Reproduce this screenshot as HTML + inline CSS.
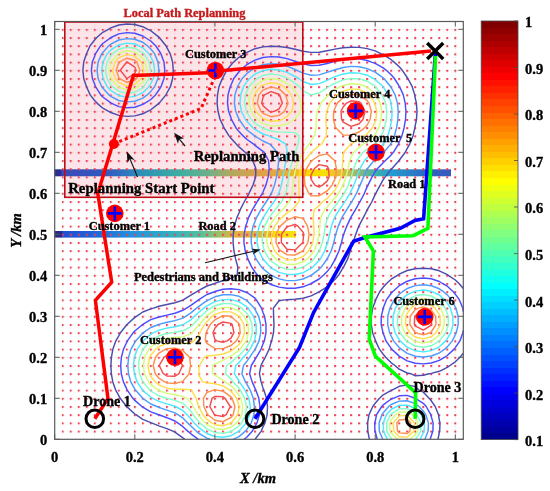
<!DOCTYPE html><html><head><meta charset="utf-8"><style>html,body{margin:0;padding:0;background:#fff;width:550px;height:491px;overflow:hidden}svg{display:block}text{font-family:"Liberation Serif","Times New Roman",serif;font-weight:bold;stroke-width:0.35px}</style></head><body>
<svg width="550" height="491" viewBox="0 0 550 491">
<defs>
<pattern id="dots" x="61.71" y="28.80" width="8.012" height="8.200" patternUnits="userSpaceOnUse"><rect x="0" y="0" width="2" height="2" fill="#ec4252"/></pattern>
<linearGradient id="road1" gradientUnits="userSpaceOnUse" x1="54.7" x2="451.0" y1="0" y2="0"><stop offset="0.000" stop-color="#2c2c90"/><stop offset="0.013" stop-color="#2c2c90"/><stop offset="0.020" stop-color="#3a4ab8"/><stop offset="0.127" stop-color="#3058c0"/><stop offset="0.170" stop-color="#3070c0"/><stop offset="0.215" stop-color="#2a90b8"/><stop offset="0.326" stop-color="#40b0a0"/><stop offset="0.392" stop-color="#70b088"/><stop offset="0.442" stop-color="#b0a860"/><stop offset="0.519" stop-color="#e0a048"/><stop offset="0.600" stop-color="#f0b030"/><stop offset="0.634" stop-color="#f8d800"/><stop offset="0.680" stop-color="#f8e000"/><stop offset="0.707" stop-color="#f0c030"/><stop offset="0.745" stop-color="#c0b850"/><stop offset="0.775" stop-color="#80b880"/><stop offset="0.808" stop-color="#40b0a8"/><stop offset="0.846" stop-color="#20a0d0"/><stop offset="0.897" stop-color="#2880c8"/><stop offset="0.947" stop-color="#3060c0"/><stop offset="1.000" stop-color="#3858c0"/></linearGradient>
<linearGradient id="road2" gradientUnits="userSpaceOnUse" x1="54.7" x2="296.0" y1="0" y2="0"><stop offset="0.000" stop-color="#28288a"/><stop offset="0.028" stop-color="#28288a"/><stop offset="0.036" stop-color="#2050d0"/><stop offset="0.146" stop-color="#2060d8"/><stop offset="0.312" stop-color="#2090e0"/><stop offset="0.478" stop-color="#30b0c0"/><stop offset="0.602" stop-color="#50c0a0"/><stop offset="0.685" stop-color="#a0c060"/><stop offset="0.747" stop-color="#e0b040"/><stop offset="0.892" stop-color="#f0b030"/><stop offset="0.913" stop-color="#f8e010"/><stop offset="1.000" stop-color="#f8e010"/></linearGradient>
<linearGradient id="cbar" x1="0" x2="0" y1="1" y2="0"><stop offset="0.00000" stop-color="#00008f"/><stop offset="0.01562" stop-color="#00008f"/><stop offset="0.01562" stop-color="#00009f"/><stop offset="0.03125" stop-color="#00009f"/><stop offset="0.03125" stop-color="#0000af"/><stop offset="0.04688" stop-color="#0000af"/><stop offset="0.04688" stop-color="#0000bf"/><stop offset="0.06250" stop-color="#0000bf"/><stop offset="0.06250" stop-color="#0000cf"/><stop offset="0.07812" stop-color="#0000cf"/><stop offset="0.07812" stop-color="#0000df"/><stop offset="0.09375" stop-color="#0000df"/><stop offset="0.09375" stop-color="#0000ef"/><stop offset="0.10938" stop-color="#0000ef"/><stop offset="0.10938" stop-color="#0000ff"/><stop offset="0.12500" stop-color="#0000ff"/><stop offset="0.12500" stop-color="#0010ff"/><stop offset="0.14062" stop-color="#0010ff"/><stop offset="0.14062" stop-color="#0020ff"/><stop offset="0.15625" stop-color="#0020ff"/><stop offset="0.15625" stop-color="#0030ff"/><stop offset="0.17188" stop-color="#0030ff"/><stop offset="0.17188" stop-color="#0040ff"/><stop offset="0.18750" stop-color="#0040ff"/><stop offset="0.18750" stop-color="#0050ff"/><stop offset="0.20312" stop-color="#0050ff"/><stop offset="0.20312" stop-color="#0060ff"/><stop offset="0.21875" stop-color="#0060ff"/><stop offset="0.21875" stop-color="#0070ff"/><stop offset="0.23438" stop-color="#0070ff"/><stop offset="0.23438" stop-color="#0080ff"/><stop offset="0.25000" stop-color="#0080ff"/><stop offset="0.25000" stop-color="#008fff"/><stop offset="0.26562" stop-color="#008fff"/><stop offset="0.26562" stop-color="#009fff"/><stop offset="0.28125" stop-color="#009fff"/><stop offset="0.28125" stop-color="#00afff"/><stop offset="0.29688" stop-color="#00afff"/><stop offset="0.29688" stop-color="#00bfff"/><stop offset="0.31250" stop-color="#00bfff"/><stop offset="0.31250" stop-color="#00cfff"/><stop offset="0.32812" stop-color="#00cfff"/><stop offset="0.32812" stop-color="#00dfff"/><stop offset="0.34375" stop-color="#00dfff"/><stop offset="0.34375" stop-color="#00efff"/><stop offset="0.35938" stop-color="#00efff"/><stop offset="0.35938" stop-color="#00ffff"/><stop offset="0.37500" stop-color="#00ffff"/><stop offset="0.37500" stop-color="#10ffef"/><stop offset="0.39062" stop-color="#10ffef"/><stop offset="0.39062" stop-color="#20ffdf"/><stop offset="0.40625" stop-color="#20ffdf"/><stop offset="0.40625" stop-color="#30ffcf"/><stop offset="0.42188" stop-color="#30ffcf"/><stop offset="0.42188" stop-color="#40ffbf"/><stop offset="0.43750" stop-color="#40ffbf"/><stop offset="0.43750" stop-color="#50ffaf"/><stop offset="0.45312" stop-color="#50ffaf"/><stop offset="0.45312" stop-color="#60ff9f"/><stop offset="0.46875" stop-color="#60ff9f"/><stop offset="0.46875" stop-color="#70ff8f"/><stop offset="0.48438" stop-color="#70ff8f"/><stop offset="0.48438" stop-color="#80ff80"/><stop offset="0.50000" stop-color="#80ff80"/><stop offset="0.50000" stop-color="#8fff70"/><stop offset="0.51562" stop-color="#8fff70"/><stop offset="0.51562" stop-color="#9fff60"/><stop offset="0.53125" stop-color="#9fff60"/><stop offset="0.53125" stop-color="#afff50"/><stop offset="0.54688" stop-color="#afff50"/><stop offset="0.54688" stop-color="#bfff40"/><stop offset="0.56250" stop-color="#bfff40"/><stop offset="0.56250" stop-color="#cfff30"/><stop offset="0.57812" stop-color="#cfff30"/><stop offset="0.57812" stop-color="#dfff20"/><stop offset="0.59375" stop-color="#dfff20"/><stop offset="0.59375" stop-color="#efff10"/><stop offset="0.60938" stop-color="#efff10"/><stop offset="0.60938" stop-color="#ffff00"/><stop offset="0.62500" stop-color="#ffff00"/><stop offset="0.62500" stop-color="#ffef00"/><stop offset="0.64062" stop-color="#ffef00"/><stop offset="0.64062" stop-color="#ffdf00"/><stop offset="0.65625" stop-color="#ffdf00"/><stop offset="0.65625" stop-color="#ffcf00"/><stop offset="0.67188" stop-color="#ffcf00"/><stop offset="0.67188" stop-color="#ffbf00"/><stop offset="0.68750" stop-color="#ffbf00"/><stop offset="0.68750" stop-color="#ffaf00"/><stop offset="0.70312" stop-color="#ffaf00"/><stop offset="0.70312" stop-color="#ff9f00"/><stop offset="0.71875" stop-color="#ff9f00"/><stop offset="0.71875" stop-color="#ff8f00"/><stop offset="0.73438" stop-color="#ff8f00"/><stop offset="0.73438" stop-color="#ff8000"/><stop offset="0.75000" stop-color="#ff8000"/><stop offset="0.75000" stop-color="#ff7000"/><stop offset="0.76562" stop-color="#ff7000"/><stop offset="0.76562" stop-color="#ff6000"/><stop offset="0.78125" stop-color="#ff6000"/><stop offset="0.78125" stop-color="#ff5000"/><stop offset="0.79688" stop-color="#ff5000"/><stop offset="0.79688" stop-color="#ff4000"/><stop offset="0.81250" stop-color="#ff4000"/><stop offset="0.81250" stop-color="#ff3000"/><stop offset="0.82812" stop-color="#ff3000"/><stop offset="0.82812" stop-color="#ff2000"/><stop offset="0.84375" stop-color="#ff2000"/><stop offset="0.84375" stop-color="#ff1000"/><stop offset="0.85938" stop-color="#ff1000"/><stop offset="0.85938" stop-color="#ff0000"/><stop offset="0.87500" stop-color="#ff0000"/><stop offset="0.87500" stop-color="#ef0000"/><stop offset="0.89062" stop-color="#ef0000"/><stop offset="0.89062" stop-color="#df0000"/><stop offset="0.90625" stop-color="#df0000"/><stop offset="0.90625" stop-color="#cf0000"/><stop offset="0.92188" stop-color="#cf0000"/><stop offset="0.92188" stop-color="#bf0000"/><stop offset="0.93750" stop-color="#bf0000"/><stop offset="0.93750" stop-color="#af0000"/><stop offset="0.95312" stop-color="#af0000"/><stop offset="0.95312" stop-color="#9f0000"/><stop offset="0.96875" stop-color="#9f0000"/><stop offset="0.96875" stop-color="#8f0000"/><stop offset="0.98438" stop-color="#8f0000"/><stop offset="0.98438" stop-color="#800000"/><stop offset="1.00000" stop-color="#800000"/></linearGradient>
</defs>
<rect x="64.8" y="22" width="238" height="175.3" fill="#fce4e8"/>
<path d="M94.8,439.3V21.1M54.7,398.3H463.3M134.8,439.3V21.1M54.7,357.3H463.3M174.9,439.3V21.1M54.7,316.3H463.3M214.9,439.3V21.1M54.7,275.3H463.3M255.0,439.3V21.1M54.7,234.3H463.3M295.1,439.3V21.1M54.7,193.3H463.3M335.1,439.3V21.1M54.7,152.3H463.3M375.2,439.3V21.1M54.7,111.3H463.3M415.2,439.3V21.1M54.7,70.3H463.3M455.3,439.3V21.1M54.7,29.3H463.3" stroke="#c8c8c8" stroke-width="0.6" stroke-dasharray="1,2" fill="none"/>
<rect x="54.7" y="169.3" width="396.3" height="7" fill="url(#road1)"/>
<rect x="54.7" y="231.0" width="241.3" height="6.6" fill="url(#road2)"/>
<rect x="61.71" y="28.80" width="396.59" height="405.90" fill="url(#dots)"/>
<g fill="none" stroke-width="1.45" stroke-linejoin="round">
<path d="M255.1,439.3L261.3,431.1L263.0,426.8L265.0,422.9L267.1,414.7L267.5,406.5L266.5,398.3L263.9,390.1L263.0,387.9L261.1,381.9L259.4,373.7L261.0,365.5L263.0,361.4L265.3,357.3L269.2,349.1L271.0,342.6L271.7,340.9L273.5,332.7L274.0,324.5L273.6,316.3L273.4,308.1L279.0,300.8L284.5,299.9L287.0,299.7L295.1,299.3L303.1,298.2L311.1,295.9L319.1,291.9L319.4,291.7L327.1,286.9L330.9,283.5L335.1,279.2L338.5,275.3L343.1,267.6L343.5,267.1L347.7,258.9L350.4,250.7L351.1,247.8L353.0,242.5L355.8,234.3L358.8,226.1L359.2,225.4L363.2,217.9L367.2,210.0L367.3,209.7L372.0,201.5L375.2,194.4L375.8,193.3L380.2,185.1L383.2,179.7L385.2,176.9L391.2,169.4L391.8,168.7L399.1,160.5L399.2,160.3L405.3,152.3L407.2,148.4L409.7,144.1L413.0,135.9L414.9,127.7L415.2,125.7L416.5,119.5L417.0,111.3L416.4,103.1L415.2,98.0L414.7,94.9L412.2,86.7L407.9,78.5L407.2,77.5L402.3,70.3L399.2,66.8L394.1,62.1L391.2,59.7L383.2,54.7L381.3,53.9L375.2,50.9L367.2,48.6L359.2,47.4L351.1,47.2L343.1,47.8L335.1,49.1L327.1,50.7L319.1,52.2L311.1,52.4L303.1,51.2L295.1,49.3L287.0,47.5L279.0,46.5L271.0,46.3L263.0,46.9L255.0,48.7L247.0,52.3L244.4,53.9L239.0,57.3L233.6,62.1L231.0,65.0L226.7,70.3L223.0,77.4L222.3,78.5L219.0,86.7L217.5,94.9L217.1,103.1L218.0,111.3L220.1,119.5L223.0,125.4L223.9,127.7L229.0,135.9L231.0,138.3L236.2,144.1L239.0,146.9L245.2,152.3L247.0,154.2L252.6,160.5L255.0,166.1L255.8,168.7L255.6,176.9L255.0,179.1L253.0,185.1L249.0,193.3L247.0,197.1L244.4,201.5L240.2,209.7L239.0,213.0L236.8,217.9L234.4,226.1L233.2,234.3L233.1,242.5L233.9,250.7L235.6,258.9L237.8,267.1L237.2,275.3L231.0,278.2L223.0,280.5L214.9,283.4L214.8,283.5L206.9,286.0L198.9,290.4L196.9,291.7L190.9,295.1L183.2,299.9L182.9,300.1L174.9,302.7L166.9,304.5L158.9,306.3L153.6,308.1L150.8,308.8L142.8,312.0L136.4,316.3L134.8,317.4L127.0,324.5L126.8,324.7L120.4,332.7L118.8,335.8L115.8,340.9L112.9,349.1L111.4,357.3L110.9,365.5L111.3,373.7L112.8,381.9L115.7,390.1L118.8,395.6L120.2,398.3L126.7,406.5L126.8,406.6L134.8,414.0L135.9,414.7L142.8,419.4L150.8,422.7L151.4,422.9L158.9,425.9L166.9,428.6L172.8,431.1L174.9,432.2L182.9,437.8L184.8,439.3M438.0,439.3L439.3,432.5L439.7,431.1L440.0,422.9L439.3,420.1L438.5,414.7L435.2,406.5L431.3,400.8L429.1,398.3L423.3,392.2L419.0,390.1L415.2,386.6L407.2,384.9L399.2,386.3L392.1,390.1L391.2,390.3L383.2,394.8L379.5,398.3L375.2,403.3L372.8,406.5L369.0,414.7L367.6,422.9L367.8,431.1L369.4,439.3M463.3,288.5L459.0,283.5L455.3,280.0L448.2,275.3L447.3,274.7L439.3,270.8L431.3,268.8L423.3,268.2L415.2,268.7L407.2,270.5L399.2,274.2L397.5,275.3L391.2,279.2L386.5,283.5L383.2,287.3L379.7,291.7L375.6,299.9L375.2,301.5L372.7,308.1L371.3,316.3L371.3,324.5L372.6,332.7L375.2,339.7L375.5,340.9L379.4,349.1L383.2,354.2L385.7,357.3L391.2,362.8L395.0,365.5L399.2,369.2L407.2,373.0L410.8,373.7L415.2,375.8L423.3,375.3L429.0,373.7L431.3,373.4L439.3,371.3L447.3,367.4L450.0,365.5L455.3,361.8L460.0,357.3L463.3,353.3M108.7,111.3L110.8,112.5L118.8,115.4L126.8,116.4L134.8,115.9L142.8,113.8L147.5,111.3L150.8,109.8L158.9,103.4L159.2,103.1L165.9,94.9L166.9,93.0L170.4,86.7L172.6,78.5L173.3,70.3L172.6,62.1L170.3,53.9L166.9,47.6L165.9,45.7L159.3,37.5L158.9,37.1L150.8,30.7L147.8,29.3L142.8,26.7L134.8,24.5L126.8,24.0L118.8,25.0L110.8,27.9L108.4,29.3L102.8,32.3L96.8,37.5L94.8,39.8L90.1,45.7L86.7,53.2L86.4,53.9L83.7,62.1L82.9,70.3L83.7,78.5L86.5,86.7L86.7,87.2L90.2,94.9L94.8,100.7L97.0,103.1L102.8,108.2L108.7,111.3" stroke="#4c4cb1"/>
<path d="M244.0,439.3L247.0,437.0L252.4,431.1L255.0,426.4L257.0,422.9L259.4,414.7L259.9,406.5L258.8,398.3L255.8,390.1L255.0,388.4L252.2,381.9L249.6,373.7L251.3,365.5L255.0,359.5L256.3,357.3L261.1,349.1L263.0,343.9L264.3,340.9L266.0,332.7L266.0,324.5L264.5,316.3L263.0,312.4L261.5,308.1L256.3,299.9L255.0,298.2L247.0,292.5L244.5,291.7L239.0,289.6L231.0,288.7L223.0,289.3L214.9,291.5L214.6,291.7L206.9,294.5L198.9,299.7L198.6,299.9L190.9,305.3L186.5,308.1L182.9,310.3L174.9,313.2L166.9,315.1L162.4,316.3L158.9,317.0L150.8,319.6L142.8,324.3L142.6,324.5L134.8,331.0L133.2,332.7L127.4,340.9L126.8,342.3L123.5,349.1L121.4,357.3L120.7,365.5L121.3,373.7L123.4,381.9L126.8,389.1L127.3,390.1L132.9,398.3L134.8,400.4L141.9,406.5L142.8,407.2L150.8,411.9L158.7,414.7L158.9,414.8L166.9,417.7L174.9,421.0L177.7,422.9L182.9,426.7L187.7,431.1L190.9,433.8L198.4,439.3M430.2,439.3L431.3,435.7L432.9,431.1L433.1,422.9L431.3,416.6L430.8,414.7L426.2,406.5L423.3,403.3L415.4,398.3L415.2,398.2L407.2,395.4L399.2,395.8L393.3,398.3L391.2,399.0L383.2,404.9L381.7,406.5L376.6,414.7L375.2,421.3L374.7,422.9L374.9,431.1L375.2,431.8L377.2,439.3M463.3,311.5L462.7,308.1L459.4,299.9L455.3,294.2L453.3,291.7L447.3,286.2L442.6,283.5L439.3,281.5L431.3,278.8L423.3,278.0L415.2,278.7L407.2,281.2L403.2,283.5L399.2,285.7L392.6,291.7L391.2,293.3L386.4,299.9L383.2,308.1L383.2,308.4L381.3,316.3L381.2,324.5L383.0,332.7L383.2,333.3L386.0,340.9L391.2,348.4L391.7,349.1L399.2,356.1L401.3,357.3L407.2,360.9L415.2,363.3L423.3,363.9L431.3,363.0L439.3,360.4L444.4,357.3L447.3,355.5L454.1,349.1L455.3,347.6L459.9,340.9L462.9,332.7L463.3,330.4M269.2,283.5L271.0,284.5L279.0,287.1L287.0,288.3L295.1,288.2L303.1,286.8L311.1,283.6L311.2,283.5L319.1,279.0L323.5,275.3L327.1,271.6L330.8,267.1L335.1,259.3L335.4,258.9L339.0,250.7L341.5,242.5L343.1,236.0L343.7,234.3L346.8,226.1L350.6,217.9L351.1,216.9L355.5,209.7L359.2,203.0L360.1,201.5L364.4,193.3L367.2,186.6L368.0,185.1L372.1,176.9L375.2,171.5L377.3,168.7L383.2,162.7L385.4,160.5L391.2,154.9L393.4,152.3L398.4,144.1L399.2,142.0L401.9,135.9L404.1,127.7L405.5,119.5L405.9,111.3L405.2,103.1L403.3,94.9L399.6,86.7L399.2,86.1L394.4,78.5L391.2,74.8L386.2,70.3L383.2,67.9L375.2,63.4L371.4,62.1L367.2,60.5L359.2,58.9L351.1,58.6L343.1,59.5L335.1,61.3L332.5,62.1L327.1,63.5L319.1,65.2L311.1,65.5L303.1,63.9L297.5,62.1L295.1,61.3L287.0,58.6L279.0,57.0L271.0,56.6L263.0,57.5L255.0,60.1L251.3,62.1L247.0,64.5L240.3,70.3L239.0,71.7L233.8,78.5L231.0,85.0L230.2,86.7L228.0,94.9L227.5,103.1L228.6,111.3L231.0,117.8L231.5,119.5L235.9,127.7L239.0,131.6L243.1,135.9L247.0,139.5L253.6,144.1L255.0,145.3L263.0,151.3L264.2,152.3L268.5,160.5L269.2,168.7L268.2,176.9L265.9,185.1L263.0,192.0L262.4,193.3L257.3,201.5L255.0,205.4L252.4,209.7L248.4,217.9L247.0,222.5L245.7,226.1L244.1,234.3L243.9,242.5L245.2,250.7L247.0,256.1L247.8,258.9L251.7,267.1L255.0,272.0L257.8,275.3L263.0,280.3L269.2,283.5M111.3,103.1L118.8,106.6L126.8,107.8L134.8,107.2L142.8,104.4L145.0,103.1L150.8,99.5L155.5,94.9L158.9,90.0L161.0,86.7L164.0,78.5L164.8,70.3L164.0,62.1L161.0,53.9L158.9,50.5L155.6,45.7L150.8,41.0L145.2,37.5L142.8,36.0L134.8,33.3L126.8,32.6L118.8,33.9L111.0,37.5L110.8,37.6L102.8,43.5L100.7,45.7L95.4,53.9L94.8,55.9L92.3,62.1L91.4,70.3L92.4,78.5L94.8,84.6L95.5,86.7L100.8,94.9L102.8,97.0L110.8,102.9L111.3,103.1" stroke="#4c4cff"/>
<path d="M233.0,439.3L239.0,436.6L245.4,431.1L247.0,429.2L251.3,422.9L253.9,414.7L254.4,406.5L253.3,398.3L250.2,390.1L247.0,384.4L245.4,381.9L241.9,373.7L243.5,365.5L247.0,361.1L249.6,357.3L255.0,349.4L255.2,349.1L259.1,340.9L260.7,332.7L260.6,324.5L258.7,316.3L255.0,309.4L254.2,308.1L247.0,300.7L245.7,299.9L239.0,296.3L231.0,294.6L223.0,294.8L214.9,296.8L208.7,299.9L206.9,300.7L198.9,306.3L196.5,308.1L190.9,312.9L185.7,316.3L182.9,318.1L174.9,320.6L166.9,322.2L158.9,324.4L158.6,324.5L150.8,327.5L143.3,332.7L142.8,333.1L135.7,340.9L134.8,342.3L131.0,349.1L128.6,357.3L127.8,365.5L128.5,373.7L130.8,381.9L134.8,389.1L135.4,390.1L142.8,398.3L142.8,398.3L150.8,404.0L156.8,406.5L158.9,407.4L166.9,410.1L174.9,412.9L177.9,414.7L182.9,418.1L187.6,422.9L190.9,426.0L196.2,431.1L198.9,433.4L206.9,438.2L210.3,439.3M424.9,439.3L428.2,431.1L428.4,422.9L425.8,414.7L423.3,411.0L419.0,406.5L415.2,403.6L407.2,400.8L399.2,401.1L391.2,404.5L388.7,406.5L383.2,412.8L381.9,414.7L379.1,422.9L379.3,431.1L382.8,439.3M401.2,349.1L407.2,353.4L415.2,356.2L423.3,357.0L431.3,356.0L439.3,353.0L444.7,349.1L447.3,346.9L452.3,340.9L455.3,334.7L456.3,332.7L458.2,324.5L458.1,316.3L455.9,308.1L455.3,307.0L451.6,299.9L447.3,294.9L443.4,291.7L439.3,288.8L431.3,285.7L423.3,284.8L415.2,285.6L407.2,288.5L402.5,291.7L399.2,294.3L394.2,299.9L391.2,305.6L389.9,308.1L387.8,316.3L387.7,324.5L389.6,332.7L391.2,336.1L393.6,340.9L399.2,347.5L401.2,349.1M271.4,275.3L279.0,278.9L287.0,280.6L295.1,280.6L303.1,279.0L311.0,275.3L311.1,275.3L319.1,269.3L321.3,267.1L327.1,259.0L327.2,258.9L331.3,250.7L333.8,242.5L335.1,236.6L335.8,234.3L338.3,226.1L341.8,217.9L343.1,215.7L346.8,209.7L351.1,202.7L351.9,201.5L356.5,193.3L359.2,187.1L360.1,185.1L363.6,176.9L367.2,168.9L367.3,168.7L374.0,160.5L375.2,159.5L383.2,153.0L383.9,152.3L390.6,144.1L391.2,142.9L394.4,135.9L396.6,127.7L397.9,119.5L398.2,111.3L397.4,103.1L395.1,94.9L391.2,87.5L390.8,86.7L383.9,78.5L383.2,77.8L375.2,72.1L371.1,70.3L367.2,68.6L359.2,66.7L351.1,66.4L343.1,67.5L335.1,69.7L333.5,70.3L327.1,72.4L319.1,74.9L311.1,75.3L303.1,73.1L296.9,70.3L295.1,69.5L287.0,66.2L279.0,64.2L271.0,63.7L263.0,64.7L255.0,67.7L251.1,70.3L247.0,73.4L242.2,78.5L239.0,84.0L237.5,86.7L234.9,94.9L234.4,103.1L235.7,111.3L239.0,119.1L239.1,119.5L244.8,127.7L247.0,130.0L254.7,135.9L255.0,136.2L263.0,141.0L269.7,144.1L271.0,145.2L277.3,152.3L278.6,160.5L277.9,168.7L276.5,176.9L274.5,185.1L271.5,193.3L271.0,194.1L266.5,201.5L263.0,206.7L261.0,209.7L256.4,217.9L255.0,221.5L253.1,226.1L251.4,234.3L251.2,242.5L252.7,250.7L255.0,256.4L256.0,258.9L261.5,267.1L263.0,268.8L271.0,275.1L271.4,275.3M109.0,94.9L110.8,96.4L118.8,100.5L126.8,101.9L134.8,101.2L142.8,98.1L147.2,94.9L150.8,91.4L154.6,86.7L157.9,78.5L158.9,70.4L158.9,70.3L158.9,70.2L158.0,62.1L154.6,53.9L150.8,49.0L147.3,45.7L142.8,42.3L134.8,39.3L126.8,38.6L118.8,40.0L110.8,44.1L108.8,45.7L102.8,52.4L101.7,53.9L98.1,62.1L97.1,70.3L98.1,78.5L101.8,86.7L102.8,88.0L109.0,94.9" stroke="#4c9bff"/>
<path d="M203.4,431.1L206.9,433.5L214.9,436.5L223.0,437.3L231.0,435.7L239.0,431.2L239.1,431.1L246.2,422.9L247.0,421.2L249.6,414.7L250.4,406.5L248.8,398.3L247.0,394.2L245.0,390.1L239.4,381.9L239.0,381.0L234.3,373.7L235.8,365.5L239.0,362.6L243.3,357.3L247.0,353.4L250.2,349.1L254.3,340.9L255.0,338.1L256.3,332.7L256.1,324.5L255.0,321.0L253.6,316.3L248.1,308.1L247.0,307.0L239.0,301.7L232.3,299.9L231.0,299.5L223.0,299.6L221.7,299.9L214.9,301.6L206.9,305.8L203.8,308.1L198.9,312.3L194.4,316.3L190.9,319.8L183.3,324.5L182.9,324.7L174.9,326.8L166.9,328.1L158.9,330.3L153.8,332.7L150.8,334.2L143.0,340.9L142.8,341.1L137.3,349.1L134.8,356.3L134.4,357.3L133.4,365.5L134.4,373.7L134.8,375.1L137.1,381.9L142.6,390.1L142.8,390.4L150.8,397.2L152.8,398.3L158.9,401.4L166.9,403.9L174.9,406.2L175.6,406.5L182.9,410.6L186.9,414.7L190.9,418.8L194.1,422.9L198.9,427.6L203.4,431.1M420.2,439.3L423.3,433.0L424.1,431.1L424.4,422.9L423.3,419.9L421.2,414.7L415.2,408.5L410.7,406.5L407.2,405.1L399.2,405.3L396.8,406.5L391.2,409.4L386.3,414.7L383.3,422.9L383.5,431.1L387.3,439.3M411.4,349.1L415.2,350.8L423.3,351.9L431.3,350.6L434.5,349.1L439.3,346.8L445.7,340.9L447.3,338.7L450.9,332.7L453.0,324.5L452.8,316.3L450.4,308.1L447.3,303.1L444.8,299.9L439.3,295.0L432.1,291.7L431.3,291.3L423.3,290.0L415.2,291.1L413.9,291.7L407.2,294.6L401.0,299.9L399.2,302.2L395.4,308.1L393.1,316.3L393.0,324.5L395.0,332.7L399.2,339.7L400.1,340.9L407.2,347.2L411.4,349.1M270.2,267.1L271.0,267.8L279.0,272.4L287.0,274.4L295.1,274.5L303.1,272.7L311.1,268.4L312.7,267.1L319.1,260.6L320.4,258.9L324.9,250.7L327.1,243.8L327.6,242.5L329.6,234.3L331.4,226.1L334.4,217.9L335.1,216.7L339.4,209.7L343.1,204.4L345.1,201.5L350.0,193.3L351.1,190.9L353.9,185.1L356.9,176.9L359.2,170.4L359.9,168.7L364.6,160.5L367.2,157.7L373.5,152.3L375.2,151.1L383.2,144.4L383.4,144.1L387.8,135.9L390.2,127.7L391.2,122.2L391.7,119.5L392.1,111.3L391.2,104.3L391.1,103.1L388.4,94.9L383.2,86.8L383.1,86.7L375.2,79.5L373.5,78.5L367.2,75.2L359.2,73.1L351.1,72.8L343.1,74.0L335.1,76.6L330.8,78.5L327.1,80.3L319.1,83.6L311.1,84.5L303.1,81.5L298.7,78.5L295.1,76.5L287.0,72.4L279.8,70.3L279.0,70.0L271.0,69.3L265.3,70.3L263.0,70.6L255.0,74.1L249.7,78.5L247.0,81.6L243.5,86.7L240.6,94.9L240.0,103.1L241.4,111.3L245.4,119.5L247.0,121.6L252.9,127.7L255.0,129.4L263.0,134.0L268.9,135.9L271.0,136.9L279.0,139.8L285.7,144.1L287.0,150.6L287.2,152.3L287.0,153.4L286.0,160.5L284.4,168.7L283.0,176.9L281.4,185.1L279.0,193.0L278.9,193.3L274.3,201.5L271.0,205.9L268.3,209.7L263.0,217.9L263.0,217.9L259.2,226.1L257.3,234.3L257.1,242.5L258.8,250.7L262.8,258.9L263.0,259.2L270.2,267.1M117.7,94.9L118.8,95.5L126.8,97.4L134.8,96.4L138.2,94.9L142.8,92.6L149.0,86.7L150.8,83.5L153.4,78.5L154.7,70.3L153.4,62.1L150.8,57.0L149.1,53.9L142.8,47.8L138.5,45.7L134.8,44.0L126.8,43.1L118.8,45.0L117.5,45.7L110.8,49.9L107.1,53.9L103.0,62.1L102.8,63.7L101.7,70.3L102.8,76.7L103.0,78.5L107.2,86.7L110.8,90.5L117.7,94.9" stroke="#4ce9ff"/>
<path d="M211.7,431.1L214.9,432.5L223.0,433.4L231.0,431.5L231.6,431.1L239.0,426.0L241.7,422.9L245.6,414.7L246.4,406.5L244.7,398.3L240.3,390.1L239.0,388.1L233.0,381.9L231.0,378.9L225.5,373.7L226.6,365.5L231.0,362.6L236.6,357.3L239.0,355.7L245.2,349.1L247.0,346.6L250.3,340.9L252.4,332.7L252.0,324.5L249.0,316.3L247.0,313.4L241.5,308.1L239.0,306.3L231.0,303.6L223.0,303.5L214.9,305.8L210.9,308.1L206.9,310.7L200.7,316.3L198.9,318.4L192.8,324.5L190.9,326.6L182.9,330.8L174.9,332.3L172.5,332.7L166.9,333.5L158.9,335.8L150.8,340.4L150.3,340.9L143.1,349.1L142.8,349.7L139.6,357.3L138.4,365.5L139.5,373.7L142.8,381.8L142.9,381.9L149.8,390.1L150.8,391.0L158.9,395.8L166.5,398.3L166.9,398.4L174.9,400.4L182.9,403.4L186.4,406.5L190.9,411.2L193.1,414.7L198.9,421.9L199.8,422.9L206.9,428.9L211.7,431.1M415.7,439.3L420.7,431.1L421.0,422.9L417.0,414.7L415.2,412.8L407.2,408.7L399.2,408.9L391.2,413.9L390.5,414.7L386.5,422.9L386.8,431.1L391.2,438.6L391.9,439.3M406.4,340.9L407.2,341.6L415.2,346.0L423.3,347.2L431.3,345.8L439.3,341.1L439.5,340.9L445.8,332.7L447.3,328.1L448.4,324.5L448.2,316.3L447.3,313.6L445.3,308.1L439.3,300.8L438.1,299.9L431.3,296.0L423.3,294.5L415.2,295.8L407.7,299.9L407.2,300.2L400.6,308.1L399.2,311.7L397.6,316.3L397.4,324.5L399.2,330.1L400.1,332.7L406.4,340.9M280.3,267.1L287.0,269.3L295.1,269.4L302.8,267.1L303.1,267.0L311.1,261.9L314.0,258.9L319.1,251.1L319.3,250.7L322.4,242.5L324.1,234.3L325.3,226.1L327.1,219.3L327.6,217.9L332.2,209.7L335.1,206.1L338.5,201.5L343.1,195.0L344.2,193.3L348.4,185.1L351.1,177.1L351.2,176.9L353.7,168.7L356.8,160.5L359.2,156.9L363.2,152.3L367.2,149.1L374.2,144.1L375.2,143.3L381.2,135.9L383.2,131.5L384.5,127.7L386.3,119.5L386.8,111.3L385.6,103.1L383.2,97.2L382.1,94.9L375.5,86.7L375.2,86.4L367.2,81.2L359.2,78.9L351.1,78.5L343.1,79.9L335.1,83.1L328.7,86.7L327.1,87.8L319.1,93.0L311.5,94.9L311.1,95.1L310.8,94.9L303.1,90.8L299.5,86.7L295.1,83.4L288.0,78.5L287.0,78.0L279.0,74.9L271.0,74.0L263.0,75.5L257.4,78.5L255.0,80.1L249.0,86.7L247.0,91.1L245.4,94.9L244.6,103.1L246.5,111.3L247.0,112.3L251.3,119.5L255.0,123.3L262.0,127.7L263.0,128.3L271.0,131.0L279.0,132.1L287.0,132.1L295.1,132.6L299.0,135.9L298.2,144.1L295.4,152.3L295.1,153.0L292.4,160.5L290.2,168.7L288.7,176.9L287.5,185.1L287.0,187.3L285.6,193.3L281.7,201.5L279.0,204.7L275.2,209.7L271.0,214.9L268.9,217.9L264.6,226.1L263.0,232.1L262.4,234.3L262.2,242.5L263.0,245.6L264.3,250.7L269.1,258.9L271.0,261.0L279.0,266.7L280.3,267.1M112.6,86.7L118.8,91.2L126.8,93.3L134.8,92.3L142.8,87.6L143.8,86.7L149.1,78.5L150.6,70.3L149.2,62.1L143.9,53.9L142.8,52.8L134.8,48.2L126.8,47.2L118.8,49.2L112.4,53.9L110.8,55.8L107.0,62.1L105.5,70.3L107.0,78.5L110.8,84.6L112.6,86.7" stroke="#84ffc7"/>
<path d="M409.8,439.3L415.2,434.6L417.4,431.1L417.8,422.9L415.2,418.1L412.0,414.7L407.2,411.9L399.2,412.3L395.5,414.7L391.2,420.0L389.7,422.9L390.1,431.1L391.2,432.9L397.5,439.3M205.1,422.9L206.9,424.4L214.9,428.6L223.0,429.5L231.0,427.3L236.7,422.9L239.0,420.0L241.8,414.7L242.8,406.5L240.8,398.3L239.0,395.0L235.3,390.1L231.0,385.6L225.0,381.9L223.0,380.0L214.9,375.1L212.5,373.7L212.7,365.5L214.9,364.1L223.0,360.3L227.7,357.3L231.0,356.0L239.0,350.3L240.1,349.1L246.1,340.9L247.0,338.3L248.6,332.7L248.1,324.5L247.0,321.6L244.2,316.3L239.0,311.1L232.3,308.1L231.0,307.6L223.0,307.4L220.7,308.1L214.9,310.1L206.9,315.7L206.2,316.3L199.2,324.5L198.9,325.0L192.0,332.7L190.9,333.9L182.9,336.9L174.9,337.5L166.9,338.4L159.3,340.9L158.9,341.1L150.8,347.0L149.0,349.1L144.6,357.3L143.3,365.5L144.5,373.7L148.6,381.9L150.8,384.4L158.2,390.1L158.9,390.5L166.9,393.4L174.9,394.8L182.9,396.4L186.3,398.3L190.9,402.1L193.2,406.5L198.1,414.7L198.9,415.7L205.1,422.9M414.1,340.9L415.2,341.5L423.3,343.1L431.3,341.3L431.9,340.9L439.3,335.1L441.2,332.7L444.3,324.5L444.1,316.3L440.5,308.1L439.3,306.6L431.3,300.6L428.4,299.9L423.3,298.8L417.3,299.9L415.2,300.3L407.2,305.9L405.4,308.1L401.8,316.3L401.6,324.5L404.7,332.7L407.2,335.8L414.1,340.9M275.9,258.9L279.0,261.3L287.0,264.4L295.1,264.5L303.1,261.8L307.2,258.9L311.1,255.0L314.2,250.7L317.5,242.5L318.9,234.3L319.1,231.9L319.6,226.1L320.7,217.9L324.5,209.7L327.1,207.0L331.7,201.5L335.1,197.8L338.5,193.3L343.1,185.2L343.2,185.1L346.1,176.9L347.9,168.7L349.7,160.5L351.1,157.0L353.7,152.3L359.2,147.3L363.3,144.1L367.2,141.5L373.7,135.9L375.2,134.1L378.7,127.7L381.1,119.5L381.7,111.3L380.2,103.1L376.1,94.9L375.2,93.8L367.2,87.0L366.3,86.7L359.2,84.1L351.1,83.7L343.1,85.5L340.4,86.7L335.1,89.6L328.2,94.9L327.1,96.3L321.0,103.1L319.1,108.2L317.0,111.3L316.1,119.5L316.1,127.7L314.3,135.9L311.1,140.7L309.0,144.1L303.1,152.1L303.0,152.3L298.5,160.5L295.5,168.7L295.1,171.1L293.9,176.9L293.0,185.1L292.2,193.3L289.4,201.5L287.0,204.2L282.6,209.7L279.0,213.0L274.9,217.9L271.0,223.6L269.6,226.1L267.0,234.3L266.8,242.5L269.3,250.7L271.0,253.3L275.9,258.9M257.5,119.5L263.0,123.4L271.0,125.9L279.0,126.0L287.0,124.0L294.4,119.5L295.1,118.7L301.0,111.3L301.4,103.1L298.1,94.9L295.1,91.5L291.3,86.7L287.0,83.5L279.0,79.5L271.0,78.5L263.0,80.3L255.0,85.9L254.3,86.7L249.9,94.9L249.0,103.1L251.1,111.3L255.0,117.1L257.5,119.5M118.2,86.7L118.8,87.1L126.8,89.7L134.8,88.4L137.6,86.7L142.8,82.1L145.3,78.5L147.1,70.3L145.3,62.1L142.8,58.4L137.8,53.9L134.8,52.1L126.8,50.8L118.8,53.4L118.1,53.9L110.9,62.1L110.8,62.7L109.1,70.3L110.8,77.6L111.0,78.5L118.2,86.7" stroke="#d2ff79"/>
<path d="M393.7,431.1L399.2,436.7L407.2,437.1L413.9,431.1L414.5,422.9L407.2,415.3L399.2,415.9L393.2,422.9L393.7,431.1M211.6,422.9L214.9,424.7L223.0,425.8L231.0,423.1L231.3,422.9L237.7,414.7L239.0,407.8L239.2,406.5L239.0,405.8L236.6,398.3L231.0,391.1L229.6,390.1L223.0,385.9L214.9,383.7L206.9,382.8L202.8,381.9L198.9,375.5L198.7,373.7L198.9,370.5L199.4,365.5L204.3,357.3L206.9,356.0L214.9,355.2L223.0,354.0L231.0,351.0L233.6,349.1L239.0,344.5L241.6,340.9L244.5,332.7L243.9,324.5L239.2,316.3L239.0,316.1L231.0,311.9L223.0,311.6L214.9,314.4L212.3,316.3L206.9,321.7L204.5,324.5L199.8,332.7L198.9,335.1L193.9,340.9L190.9,343.2L182.9,343.2L174.9,342.7L166.9,343.5L158.9,346.6L155.7,349.1L150.8,355.2L149.6,357.3L148.0,365.5L149.5,373.7L150.8,376.2L155.2,381.9L158.9,384.9L166.9,388.2L174.9,389.3L182.9,389.2L190.9,389.6L191.6,390.1L196.0,398.3L198.8,406.5L198.9,406.7L202.9,414.7L206.9,419.3L211.6,422.9M409.8,332.7L415.2,337.0L423.3,338.9L431.3,336.7L436.0,332.7L439.3,326.9L440.3,324.5L440.0,316.3L439.3,314.7L435.1,308.1L431.3,305.1L423.3,302.9L415.2,304.7L410.8,308.1L407.2,313.4L405.9,316.3L405.6,324.5L407.2,328.3L409.8,332.7M285.2,258.9L287.0,259.7L295.1,259.9L297.7,258.9L303.1,256.4L308.8,250.7L311.1,246.4L312.8,242.5L314.1,234.3L313.8,226.1L313.1,217.9L314.2,209.7L319.1,205.4L322.9,201.5L327.1,198.6L332.2,193.3L335.1,189.7L337.9,185.1L341.0,176.9L342.3,168.7L342.7,160.5L343.1,156.9L343.8,152.3L350.6,144.1L351.1,143.9L359.2,139.4L364.4,135.9L367.2,133.9L372.4,127.7L375.2,121.5L375.9,119.5L376.7,111.3L375.2,104.1L374.9,103.1L369.2,94.9L367.2,93.1L359.2,89.4L351.1,88.9L343.1,91.2L337.1,94.9L335.1,96.8L329.8,103.1L327.1,110.3L326.7,111.3L325.8,119.5L326.4,127.7L326.3,135.9L321.6,144.1L319.1,145.6L311.4,152.3L311.1,152.5L304.7,160.5L303.1,163.3L300.8,168.7L299.0,176.9L298.7,185.1L299.3,193.3L299.1,201.5L295.1,206.4L292.4,209.7L287.0,212.9L281.6,217.9L279.0,220.2L274.8,226.1L271.5,234.3L271.4,242.5L274.6,250.7L279.0,255.6L285.2,258.9M265.7,119.5L271.0,121.3L279.0,120.8L282.3,119.5L287.0,116.6L291.8,111.3L293.7,103.1L291.4,94.9L287.0,89.6L283.8,86.7L279.0,84.0L271.0,82.7L263.0,84.9L260.5,86.7L255.0,93.5L254.2,94.9L253.1,103.1L255.0,109.3L255.8,111.3L263.0,118.5L265.7,119.5M115.1,78.5L118.8,82.6L126.8,86.0L134.8,84.4L141.2,78.5L142.8,73.5L143.6,70.3L142.8,67.0L141.3,62.1L134.8,56.1L126.8,54.4L118.8,57.8L115.0,62.1L112.7,70.3L115.1,78.5" stroke="#ffde4c"/>
<path d="M397.5,431.1L399.2,432.9L407.2,433.5L409.9,431.1L410.6,422.9L407.2,419.3L399.2,420.0L396.8,422.9L397.5,431.1M207.9,414.7L214.9,420.2L223.0,421.7L231.0,417.5L233.2,414.7L234.9,406.5L232.1,398.3L231.0,396.8L223.0,391.2L217.0,390.1L214.9,389.7L213.1,390.1L206.9,392.7L203.4,398.3L203.9,406.5L206.9,413.0L207.9,414.7M164.6,381.9L166.9,382.9L174.9,383.5L181.2,381.9L182.9,381.1L189.1,373.7L190.6,365.5L189.6,357.3L182.9,350.7L178.9,349.1L174.9,348.2L166.9,348.7L165.8,349.1L158.9,353.2L155.5,357.3L153.2,365.5L155.3,373.7L158.9,378.2L164.6,381.9M205.3,340.9L206.9,343.4L214.9,348.5L223.0,348.6L231.0,345.5L236.3,340.9L239.0,336.1L240.2,332.7L239.4,324.5L239.0,323.7L231.0,316.3L231.0,316.3L223.0,315.8L221.5,316.3L214.9,319.8L210.3,324.5L206.9,330.9L206.0,332.7L205.3,340.9M415.7,332.7L423.3,334.9L429.8,332.7L431.3,331.9L436.0,324.5L435.7,316.3L431.3,310.1L427.1,308.1L423.3,306.9L418.8,308.1L415.2,309.6L410.2,316.3L409.9,324.5L415.2,332.5L415.7,332.7M280.5,250.7L287.0,254.7L295.1,255.0L303.1,250.8L303.1,250.7L307.9,242.5L309.1,234.3L307.5,226.1L303.1,218.5L300.9,217.9L295.1,216.7L292.7,217.9L287.0,220.0L280.4,226.1L279.0,228.0L276.2,234.3L276.0,242.5L279.0,248.9L280.5,250.7M308.8,193.3L311.1,195.9L319.1,195.8L323.1,193.3L327.1,191.0L332.0,185.1L335.1,178.6L335.8,176.9L336.4,168.7L335.1,161.8L334.6,160.5L327.1,153.9L319.1,155.5L312.1,160.5L311.1,161.3L306.5,168.7L304.3,176.9L304.9,185.1L308.8,193.3M335.8,127.7L343.1,135.1L351.1,135.0L359.2,132.0L364.8,127.7L367.2,125.0L370.1,119.5L371.3,111.3L369.0,103.1L367.2,100.6L359.3,94.9L359.2,94.8L351.1,94.2L349.1,94.9L343.1,97.6L337.3,103.1L335.1,107.8L333.7,111.3L333.4,119.5L335.1,126.1L335.8,127.7M260.9,111.3L263.0,113.3L271.0,116.7L279.0,115.4L284.6,111.3L287.0,105.8L288.0,103.1L287.0,99.9L285.6,94.9L279.0,88.9L271.0,86.9L263.0,90.1L258.9,94.9L257.3,103.1L260.9,111.3M119.4,78.5L126.8,82.3L134.8,80.2L136.7,78.5L139.9,70.3L136.8,62.1L134.8,60.2L126.8,58.2L119.2,62.1L118.8,62.7L116.2,70.3L118.8,77.6L119.4,78.5" stroke="#ff8f4c"/>
<path d="M214.4,414.7L214.9,415.1L223.0,416.5L226.2,414.7L230.3,406.5L225.0,398.3L223.0,396.8L214.9,396.4L212.1,398.3L209.8,406.5L214.4,414.7M163.3,373.7L166.9,376.0L174.9,376.2L178.9,373.7L182.5,365.5L178.4,357.3L174.9,355.4L166.9,355.4L163.9,357.3L159.2,365.5L163.3,373.7M216.6,340.9L223.0,342.3L227.1,340.9L231.0,338.1L233.9,332.7L232.2,324.5L231.0,323.4L223.0,322.0L218.1,324.5L214.9,328.3L213.0,332.7L214.9,339.4L216.6,340.9M414.3,324.5L415.2,325.8L423.3,330.1L431.3,325.1L431.6,324.5L431.3,316.9L431.2,316.3L423.3,311.7L415.2,315.6L414.7,316.3L414.3,324.5M281.3,242.5L287.0,249.3L295.1,249.9L302.8,242.5L303.1,240.6L303.7,234.3L303.1,232.3L297.9,226.1L295.1,224.5L289.4,226.1L287.0,226.8L281.5,234.3L281.3,242.5M314.9,185.1L319.1,187.0L322.5,185.1L327.1,181.1L329.1,176.9L328.6,168.7L327.1,166.2L319.1,164.6L314.2,168.7L311.1,175.0L310.6,176.9L311.1,179.4L314.9,185.1M341.6,119.5L343.1,122.1L351.1,126.4L359.2,123.7L362.9,119.5L365.1,111.3L360.9,103.1L359.2,101.8L351.1,100.8L346.6,103.1L343.1,107.0L341.0,111.3L341.6,119.5M269.3,111.3L271.0,112.1L274.3,111.3L279.0,109.0L282.3,103.1L279.6,94.9L279.0,94.3L271.0,91.6L264.4,94.9L263.0,97.5L261.7,103.1L263.0,105.8L269.3,111.3M126.8,78.5L126.8,78.5L126.9,78.5L134.8,73.3L136.1,70.3L134.8,67.2L127.3,62.1L126.8,62.0L126.6,62.1L120.3,70.3L126.8,78.5" stroke="#f44c4c"/>
</g>
<rect x="64.8" y="22" width="238" height="175.3" fill="none" stroke="#c00c18" stroke-width="1.6"/>
<polyline points="255.0,418.8 299.5,347.5 313.5,312.7 353.6,241.3 364.0,237.8 400.3,228.3 415.0,220.5 423.6,218.8 435.5,52.0" fill="none" stroke="#0000ff" stroke-width="3.6"/>
<polyline points="415.2,418.8 415.6,392.7 375.5,356.4 369.2,339.0 373.4,251.0 364.9,237.0 413.2,235.7 427.9,228.3 435.5,56.0" fill="none" stroke="#00ff00" stroke-width="3.6"/>
<polyline points="94.8,418.8 108.0,398.7 95.4,300.4 111.7,282.1 97.8,193.5 133.4,75.5 215.4,72.6" fill="none" stroke="#ff0000" stroke-width="3.5" stroke-linejoin="miter"/>
<polyline points="113.7,143.8 201.0,108.5 213.5,80.0 215.4,73.0" fill="none" stroke="#ff0000" stroke-width="3" stroke-dasharray="3,3"/>
<circle cx="113.9" cy="144" r="5" fill="#ff0000"/>
<circle cx="114.8" cy="213.4" r="8.8" fill="#ff0000"/>
<path d="M107.8,213.4h14M114.8,206.4v14" stroke="#0000ff" stroke-width="2.6"/>
<circle cx="175.0" cy="357.3" r="8.8" fill="#ff0000"/>
<path d="M168.0,357.3h14M175.0,350.3v14" stroke="#0000ff" stroke-width="2.6"/>
<circle cx="215.4" cy="70.5" r="8.8" fill="#ff0000"/>
<path d="M208.4,70.5h14M215.4,63.5v14" stroke="#0000ff" stroke-width="2.6"/>
<circle cx="355.6" cy="110.9" r="8.8" fill="#ff0000"/>
<path d="M348.6,110.9h14M355.6,103.9v14" stroke="#0000ff" stroke-width="2.6"/>
<circle cx="376.0" cy="152.3" r="8.8" fill="#ff0000"/>
<path d="M369.0,152.3h14M376.0,145.3v14" stroke="#0000ff" stroke-width="2.6"/>
<circle cx="424.7" cy="316.9" r="8.8" fill="#ff0000"/>
<path d="M417.7,316.9h14M424.7,309.9v14" stroke="#0000ff" stroke-width="2.6"/>
<polyline points="215.4,71.3 431.0,50.9" fill="none" stroke="#ff0000" stroke-width="3.5"/>
<circle cx="94.8" cy="418.8" r="8.8" fill="none" stroke="#000" stroke-width="3"/>
<circle cx="255.0" cy="418.8" r="8.8" fill="none" stroke="#000" stroke-width="3"/>
<circle cx="415.2" cy="418.8" r="8.8" fill="none" stroke="#000" stroke-width="3"/>
<path d="M427.2,43L443.2,59M443.2,43L427.2,59" stroke="#000" stroke-width="3.4"/>
<line x1="137.5" y1="177.0" x2="129.9" y2="158.7" stroke="#111" stroke-width="1.1"/><path d="M126.8,151.4L134.7,160.0L129.9,158.7L127.4,163.1z" fill="#111"/>
<line x1="185.2" y1="146.1" x2="179.1" y2="138.9" stroke="#111" stroke-width="1.1"/><path d="M174.0,132.8L184.1,138.6L179.1,138.9L178.0,143.8z" fill="#111"/>
<line x1="205.1" y1="262.7" x2="254.5" y2="251.0" stroke="#111" stroke-width="1.1"/><path d="M260.8,249.5L252.7,254.5L254.5,251.0L251.4,248.7z" fill="#111"/>
<text x="185.0" y="57.6" font-size="12.4" text-anchor="start" fill="#000" stroke="#000" >Customer 3</text>
<text x="329.0" y="98.4" font-size="12.4" text-anchor="start" fill="#000" stroke="#000" >Customer 4</text>
<text x="348.2" y="142.4" font-size="12.4" text-anchor="start" fill="#000" stroke="#000" >Customer <tspan dx="2.6">5</tspan></text>
<text x="88.7" y="229.6" font-size="12.4" text-anchor="start" fill="#000" stroke="#000" >Customer 1</text>
<text x="198.4" y="229.6" font-size="12.4" text-anchor="start" fill="#000" stroke="#000" >Road 2</text>
<text x="140.0" y="344.1" font-size="12.4" text-anchor="start" fill="#000" stroke="#000" >Customer 2</text>
<text x="393.4" y="305.0" font-size="12.4" text-anchor="start" fill="#000" stroke="#000" >Customer 6</text>
<text x="388.0" y="187.9" font-size="12.4" text-anchor="start" fill="#000" stroke="#000" >Road 1</text>
<text x="193.7" y="161.2" font-size="14.7" text-anchor="start" fill="#000" stroke="#000" >Replanning Path</text>
<text x="68.2" y="192.7" font-size="14.8" text-anchor="start" fill="#000" stroke="#000" >Replanning Start Point</text>
<text x="133.9" y="281.4" font-size="12.5" text-anchor="start" fill="#000" stroke="#000" >Pedestrians and Buildings</text>
<text x="83.0" y="405.9" font-size="14.1" text-anchor="start" fill="#000" stroke="#000" >Drone 1</text>
<text x="271.4" y="424.3" font-size="14.1" text-anchor="start" fill="#000" stroke="#000" >Drone 2</text>
<text x="413.5" y="391.9" font-size="14.1" text-anchor="start" fill="#000" stroke="#000" >Drone 3</text>
<text x="184.5" y="17.4" font-size="12.4" text-anchor="middle" fill="#c41a1a" stroke="#c41a1a" >Local Path Replanning</text>
<rect x="54.7" y="21.5" width="408.6" height="417.8" fill="none" stroke="#5a5a5a" stroke-width="1.2"/>
<path d="M54.7,439.3v-5M54.7,21.5v5M134.8,439.3v-5M134.8,21.5v5M214.9,439.3v-5M214.9,21.5v5M295.1,439.3v-5M295.1,21.5v5M375.2,439.3v-5M375.2,21.5v5M455.3,439.3v-5M455.3,21.5v5M54.7,439.3h5M463.3,439.3h-5M54.7,398.3h5M463.3,398.3h-5M54.7,357.3h5M463.3,357.3h-5M54.7,316.3h5M463.3,316.3h-5M54.7,275.3h5M463.3,275.3h-5M54.7,234.3h5M463.3,234.3h-5M54.7,193.3h5M463.3,193.3h-5M54.7,152.3h5M463.3,152.3h-5M54.7,111.3h5M463.3,111.3h-5M54.7,70.3h5M463.3,70.3h-5M54.7,29.3h5M463.3,29.3h-5" stroke="#5a5a5a" stroke-width="1"/>
<text x="54.7" y="462.4" font-size="14.5" text-anchor="middle" fill="#000" stroke="#000" >0</text>
<text x="134.8" y="462.4" font-size="14.5" text-anchor="middle" fill="#000" stroke="#000" >0.2</text>
<text x="214.9" y="462.4" font-size="14.5" text-anchor="middle" fill="#000" stroke="#000" >0.4</text>
<text x="295.1" y="462.4" font-size="14.5" text-anchor="middle" fill="#000" stroke="#000" >0.6</text>
<text x="375.2" y="462.4" font-size="14.5" text-anchor="middle" fill="#000" stroke="#000" >0.8</text>
<text x="455.3" y="462.4" font-size="14.5" text-anchor="middle" fill="#000" stroke="#000" >1</text>
<text x="47.2" y="445.3" font-size="14.5" text-anchor="end" fill="#000" stroke="#000" >0</text>
<text x="47.2" y="404.3" font-size="14.5" text-anchor="end" fill="#000" stroke="#000" >0.1</text>
<text x="47.2" y="363.3" font-size="14.5" text-anchor="end" fill="#000" stroke="#000" >0.2</text>
<text x="47.2" y="322.3" font-size="14.5" text-anchor="end" fill="#000" stroke="#000" >0.3</text>
<text x="47.2" y="281.3" font-size="14.5" text-anchor="end" fill="#000" stroke="#000" >0.4</text>
<text x="47.2" y="240.3" font-size="14.5" text-anchor="end" fill="#000" stroke="#000" >0.5</text>
<text x="47.2" y="199.3" font-size="14.5" text-anchor="end" fill="#000" stroke="#000" >0.6</text>
<text x="47.2" y="158.3" font-size="14.5" text-anchor="end" fill="#000" stroke="#000" >0.7</text>
<text x="47.2" y="117.3" font-size="14.5" text-anchor="end" fill="#000" stroke="#000" >0.8</text>
<text x="47.2" y="76.3" font-size="14.5" text-anchor="end" fill="#000" stroke="#000" >0.9</text>
<text x="47.2" y="35.3" font-size="14.5" text-anchor="end" fill="#000" stroke="#000" >1</text>
<text x="258" y="482.6" font-size="14.5" text-anchor="middle" font-style="italic" stroke="#000">X /km</text>
<text transform="translate(20.6,230.4) rotate(-90)" x="0" y="0" font-size="14.5" text-anchor="middle" font-style="italic" stroke="#000">Y /km</text>
<rect x="481.2" y="21" width="36.8" height="418.6" fill="url(#cbar)" stroke="#4a4a4a" stroke-width="0.8"/>
<text x="525.0" y="446.0" font-size="14.5" text-anchor="start" fill="#000" stroke="#000" >0.1</text>
<text x="525.0" y="399.5" font-size="14.5" text-anchor="start" fill="#000" stroke="#000" >0.2</text>
<text x="525.0" y="353.0" font-size="14.5" text-anchor="start" fill="#000" stroke="#000" >0.3</text>
<text x="525.0" y="306.5" font-size="14.5" text-anchor="start" fill="#000" stroke="#000" >0.4</text>
<text x="525.0" y="260.0" font-size="14.5" text-anchor="start" fill="#000" stroke="#000" >0.5</text>
<text x="525.0" y="213.4" font-size="14.5" text-anchor="start" fill="#000" stroke="#000" >0.6</text>
<text x="525.0" y="166.9" font-size="14.5" text-anchor="start" fill="#000" stroke="#000" >0.7</text>
<text x="525.0" y="120.4" font-size="14.5" text-anchor="start" fill="#000" stroke="#000" >0.8</text>
<text x="525.0" y="73.9" font-size="14.5" text-anchor="start" fill="#000" stroke="#000" >0.9</text>
<text x="525.0" y="27.4" font-size="14.5" text-anchor="start" fill="#000" stroke="#000" >1</text>
<path d="M518,439.6h-4M518,393.1h-4M518,346.6h-4M518,300.1h-4M518,253.6h-4M518,207.0h-4M518,160.5h-4M518,114.0h-4M518,67.5h-4M518,21.0h-4" stroke="#4a4a4a" stroke-width="0.8"/>
</svg></body></html>
